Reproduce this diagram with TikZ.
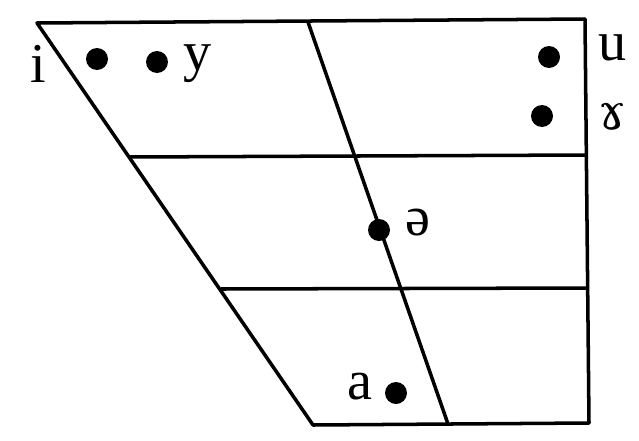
\documentclass[tikz,border=0pt]{standalone}
\usepackage{fontspec}
\setmainfont{Liberation Serif}
\newfontfamily\ipafont{DejaVu Serif}
\usetikzlibrary{positioning}

\begin{document}
\begin{tikzpicture}[x=0.02cm,y=-0.02cm,line width=2pt,
	vdot/.style={circle,fill,inner sep=0pt,minimum size=0.44cm},
	vlabel/.style={anchor=base,inner sep=0pt,font=\fontsize{32}{36}\selectfont}]
	\useasboundingbox (0,0) rectangle (639,440);
	% corners of the chart
	\coordinate (tl) at (37,23);
	\coordinate (tr) at (585,19);
	\coordinate (br) at (589,423);
	\coordinate (bl) at (313,425);
	\coordinate (hal) at (129,157);
	\coordinate (har) at (586,155);
	\coordinate (hbl) at (221,289);
	\coordinate (hbr) at (588,288);
	\coordinate (ct) at (308,22);
	\coordinate (cb) at (448,424);
	\draw[line join=round] (tl)--(tr)--(br)--(bl)--cycle;
	\draw (hal)--(har);
	\draw (hbl)--(hbr);
	\draw (ct)--(cb);
	% vowels
	\node[vdot] (di) at (97,59) {};
	\node[vdot] (dy) at (157,62) {};
	\node[vdot] (du) at (549,57) {};
	\node[vdot] (dg) at (542,116) {};
	\node[vdot] (de) at (379,230) {};
	\node[vdot] (da) at (396,393) {};
	\node[vlabel] (li) at (38,82) {i};
	\node[vlabel] (ly) at (198,70) {y};
	\node[vlabel] (lu) at (613,60) {u};
	\node[vlabel] (lg) at (612,129) {\ipafont\fontsize{28}{32}\selectfont ɤ};
	\node[vlabel] (le) at (418,235) {ə};
	\node[vlabel] (la) at (360,399) {a};
\end{tikzpicture}
\end{document}
